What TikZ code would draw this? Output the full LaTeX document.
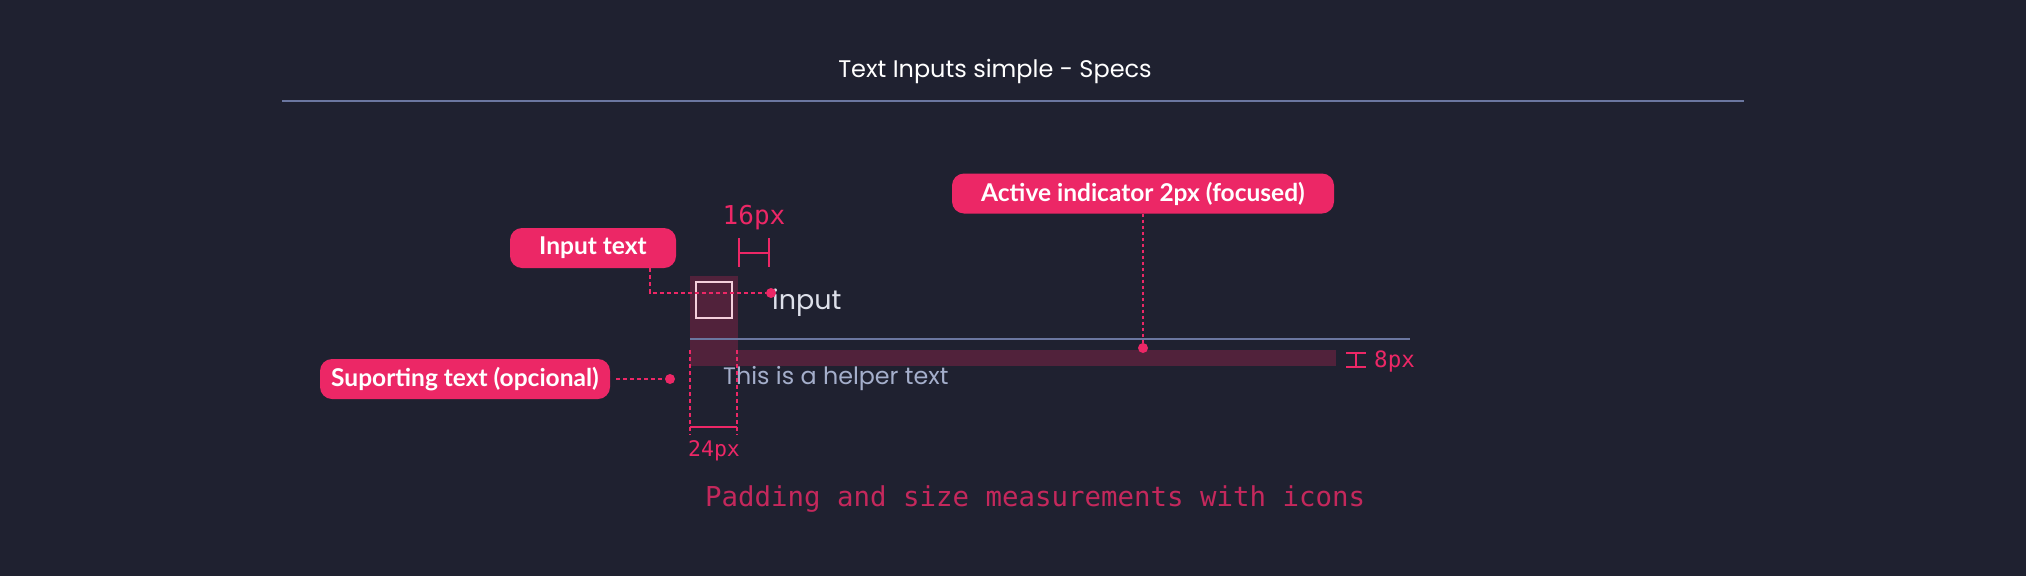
\documentclass[tikz,border=0pt]{standalone}
\usepackage{fontspec}
\setmainfont{Poppins}
\newfontfamily\pillfont{Lato}
\newfontfamily\monofont{DejaVu Sans Mono}
\usetikzlibrary{positioning}
\definecolor{bg}{HTML}{1F2130}
\definecolor{accent}{HTML}{EC2766}
\definecolor{caption}{HTML}{C4285C}
\definecolor{shadefill}{HTML}{51223B}
\definecolor{rulecol}{HTML}{6B77A0}
\definecolor{iconpink}{HTML}{F5CFDC}
\definecolor{inputcol}{HTML}{DDE0EA}
\definecolor{helpercol}{HTML}{A4AECB}

\begin{document}
\begin{tikzpicture}[x=1pt,y=1pt,
  pill/.style={fill=accent,rounded corners=12pt,text=white,minimum height=40pt,inner sep=0pt,font=\pillfont\bfseries\fontsize{24.5}{28}\selectfont},
  dot/.style={circle,fill=accent,inner sep=0pt,minimum size=10pt},
  lead/.style={accent,line width=1.5pt,dash pattern=on 4pt off 3pt},
  dim/.style={accent,line width=2pt},
  dimlabel/.style={text=accent,inner sep=0pt,font=\monofont\fontsize{26}{30}\selectfont}]
  \useasboundingbox (0,0) rectangle (2026,-576);
  \fill[bg] (0,0) rectangle (2026,-576);

  % title
  \node[anchor=base,inner sep=0pt,text=white,font=\fontsize{24}{28}\selectfont] (title) at (995,-77) {Text Inputs simple - Specs};
  \draw[rulecol,line width=2pt] (282,-100.5) -- (1744,-100.5);

  % padding areas
  \fill[shadefill] (690,-276) rectangle (738,-366);
  \fill[shadefill] (738,-350) rectangle (1336,-366);
  \draw[rulecol,line width=2pt] (690,-339) -- (1410,-339);

  \node[draw=iconpink,line width=2pt,minimum size=36pt,inner sep=0pt] (icon) at (714,-300) {};
  \node[anchor=base west,inner sep=0pt,text=inputcol,font=\fontsize{27}{30}\selectfont] (inputlabel) at (772,-309) {input};
  \node[anchor=base west,inner sep=0pt,text=helpercol,font=\fontsize{23.8}{28}\selectfont] (helper) at (723,-384) {This is a helper text};

  % callouts
  \node[pill,minimum width=166pt] (inputpill) at (593,-248) {Input text};
  \node[pill,minimum width=290pt] (suppill) at (465,-379) {Suporting text (opcional)};
  \node[pill,minimum width=382pt] (activepill) at (1143,-193.5) {Active indicator 2px (focused)};

  \node[dot] (inputdot) at (771,-293) {};
  \node[dot] (supdot) at (670,-379) {};
  \node[dot] (activedot) at (1143,-348) {};

  \draw[lead] ([xshift=57pt]inputpill.south) |- (inputdot);
  \draw[lead] ([xshift=6pt]suppill.east) -- (supdot);
  \draw[lead,dash pattern=on 3pt off 3pt] (activepill.south) -- (activedot);

  % measurements
  \draw[dim] (739,-238) -- (739,-267) (769,-238) -- (769,-267) (739,-253) -- (769,-253);
  \node[dimlabel,anchor=base] (sixteen) at (754,-224) {16px};

  \draw[lead] (690,-350) -- (690,-435) (737,-350) -- (737,-435);
  \draw[dim] (690,-427) -- (737,-427);
  \node[dimlabel,anchor=base,font=\monofont\fontsize{21.5}{26}\selectfont] (twentyfour) at (714,-456) {24px};

  \draw[dim] (1346,-353) -- (1366,-353) (1346,-367) -- (1366,-367) (1356,-353) -- (1356,-367);
  \node[dimlabel,anchor=base west,font=\monofont\fontsize{22.5}{26}\selectfont] (eight) at (1374,-367) {8px};

  \node[anchor=base west,inner sep=0pt,text=caption,font=\monofont\fontsize{27.4}{30}\selectfont] (note) at (705,-506) {Padding and size measurements with icons};
\end{tikzpicture}
\end{document}
